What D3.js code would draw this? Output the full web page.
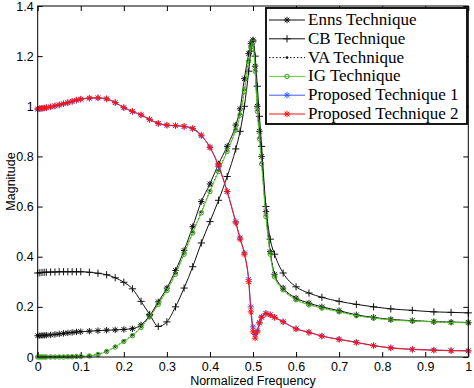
<!DOCTYPE html>
<html>
<head>
<meta charset="utf-8">
<script src="https://cdn.jsdelivr.net/npm/d3@7/dist/d3.min.js"></script>
<style>
  body { margin: 0; background: #fff; }
</style>
</head>
<body>
<script>
// normalized frequency sample points
const freq = [0, 0.005, 0.01, 0.015, 0.02, 0.03, 0.04, 0.05, 0.06, 0.07, 0.08, 0.09, 0.1,
  0.12, 0.14, 0.16, 0.18, 0.2, 0.22, 0.24, 0.26, 0.28, 0.3, 0.32, 0.34, 0.36, 0.38, 0.4,
  0.42, 0.44, 0.46, 0.47, 0.48, 0.49, 0.495, 0.5,
  0.505, 0.51, 0.515, 0.52, 0.53, 0.54, 0.55, 0.57, 0.6, 0.63, 0.66, 0.7, 0.74, 0.78,
  0.82, 0.87, 0.92, 0.96, 1];

const ennsVals = [0.085, 0.085, 0.086, 0.086, 0.087, 0.088, 0.09, 0.092, 0.094, 0.096, 0.098, 0.1, 0.101,
  0.103, 0.105, 0.107, 0.108, 0.11, 0.113, 0.128, 0.165, 0.22, 0.275, 0.345, 0.425, 0.52, 0.62, 0.69,
  0.77, 0.84, 0.925, 0.99, 1.11, 1.21, 1.25, 1.265,
  1.16, 1.0, 0.9, 0.8, 0.58, 0.42, 0.33, 0.275, 0.235, 0.215, 0.2, 0.185, 0.168, 0.158,
  0.15, 0.145, 0.141, 0.139, 0.138];

const cbVals = [0.335, 0.336, 0.337, 0.338, 0.338, 0.339, 0.339, 0.34, 0.34, 0.34, 0.34, 0.34, 0.34,
  0.338, 0.334, 0.328, 0.316, 0.298, 0.272, 0.222, 0.17, 0.122, 0.14, 0.2, 0.275, 0.36, 0.455, 0.54,
  0.625, 0.72, 0.83, 0.9, 1.0, 1.14, 1.22, 1.26,
  1.2, 1.08, 0.96, 0.84, 0.6, 0.47, 0.41, 0.335, 0.28, 0.255, 0.238, 0.222, 0.21, 0.2,
  0.192, 0.186, 0.18, 0.178, 0.176];

const vaVals = [0, 0, 0, 0, 0, 0, 0, 0.001, 0.001, 0.001, 0.002, 0.002, 0.003,
  0.005, 0.011, 0.023, 0.041, 0.063, 0.087, 0.12, 0.162, 0.212, 0.268, 0.333, 0.413, 0.498, 0.578, 0.663,
  0.743, 0.823, 0.908, 0.968, 1.065, 1.185, 1.24, 1.258,
  1.145, 0.985, 0.875, 0.775, 0.565, 0.415, 0.325, 0.27, 0.23, 0.21, 0.197, 0.181, 0.166, 0.156,
  0.149, 0.144, 0.141, 0.139, 0.137];

const igVals = [0, 0, 0, 0, 0, 0, 0, 0, 0, 0.001, 0.001, 0.002, 0.002,
  0.004, 0.01, 0.022, 0.04, 0.062, 0.085, 0.118, 0.16, 0.21, 0.265, 0.33, 0.41, 0.495, 0.575, 0.66,
  0.74, 0.82, 0.905, 0.965, 1.06, 1.18, 1.235, 1.255,
  1.14, 0.98, 0.87, 0.77, 0.56, 0.41, 0.32, 0.268, 0.228, 0.208, 0.195, 0.18, 0.165, 0.155,
  0.148, 0.143, 0.14, 0.138, 0.136];

const prop1Vals = [0.988, 0.99, 0.991, 0.993, 0.994, 0.997, 1.001, 1.005, 1.01, 1.014, 1.019, 1.024, 1.028,
  1.032, 1.033, 1.029, 1.014, 0.994, 0.979, 0.965, 0.947, 0.931, 0.924, 0.922, 0.919, 0.91, 0.882, 0.838,
  0.76, 0.66, 0.54, 0.475, 0.415, 0.31, 0.2, 0.12,
  0.09, 0.105, 0.138, 0.16, 0.174, 0.169, 0.159, 0.141, 0.113, 0.099, 0.084, 0.071, 0.059, 0.046,
  0.037, 0.031, 0.028, 0.026, 0.025];

const prop2Vals = [0.99, 0.991, 0.992, 0.993, 0.995, 0.998, 1.002, 1.006, 1.01, 1.015, 1.02, 1.025, 1.029,
  1.033, 1.034, 1.03, 1.015, 0.995, 0.98, 0.966, 0.948, 0.932, 0.925, 0.923, 0.92, 0.912, 0.885, 0.835,
  0.765, 0.66, 0.535, 0.47, 0.41, 0.3, 0.18, 0.1,
  0.075, 0.1, 0.135, 0.158, 0.173, 0.168, 0.158, 0.14, 0.112, 0.098, 0.083, 0.07, 0.058, 0.045,
  0.036, 0.03, 0.027, 0.025, 0.024];

const xTicks = [0, 0.1, 0.2, 0.3, 0.4, 0.5, 0.6, 0.7, 0.8, 0.9, 1];
const yTicks = [0, 0.2, 0.4, 0.6, 0.8, 1, 1.2, 1.4];

const seriesNames = ["Enns Technique", "CB Technique", "VA Technique", "IG Technique",
  "Proposed Technique 1", "Proposed Technique 2"];

const series = [
  { name: seriesNames[0], vals: ennsVals, color: "#111", marker: "star", dash: null },
  { name: seriesNames[1], vals: cbVals, color: "#111", marker: "plus", dash: null },
  { name: seriesNames[2], vals: vaVals, color: "#111", marker: "dot", dash: "1.5,2" },
  { name: seriesNames[3], vals: igVals, color: "#55d42a", marker: "circle", dash: null },
  { name: seriesNames[4], vals: prop1Vals, color: "#3b5bff", marker: "star", dash: null },
  { name: seriesNames[5], vals: prop2Vals, color: "#ff1010", marker: "star", dash: null }
];

const W = 474, H = 388;
const sans = "'Liberation Sans', Arial, sans-serif";
const serif = "'Liberation Serif', 'DejaVu Serif', serif";
const x = d3.scaleLinear().domain([0, 1]).range([37.7, 468.3]);
const y = d3.scaleLinear().domain([0, 1.4]).range([357, 6]);

const svg = d3.select("body").append("svg")
  .attr("width", W).attr("height", H);

function markerPath(type, r) {
  if (type === "plus") return `M0,${-r}L0,${r}M${-r},0L${r},0`;
  let d = r * 0.72;
  return `M0,${-r}L0,${r}M${-r},0L${r},0M${-d},${-d}L${d},${d}M${-d},${d}L${d},${-d}`;
}

function drawMarkers(g, s, px, py) {
  if (s.marker === "dot") {
    g.append("circle").attr("cx", px).attr("cy", py).attr("r", 1.4).attr("fill", s.color);
  } else if (s.marker === "circle") {
    g.append("circle").attr("cx", px).attr("cy", py).attr("r", 2.2)
      .attr("fill", "none").attr("stroke", "#3a9a1a").attr("stroke-width", 1);
  } else {
    let r = s.marker === "plus" ? 3.6 : 3.2;
    g.append("path").attr("d", markerPath(s.marker, r))
      .attr("transform", `translate(${px},${py})`)
      .attr("stroke", s.color).attr("stroke-width", 1).attr("fill", "none");
  }
}

// axes (ticks point inward like matlab)
svg.append("g").attr("transform", `translate(0,${y(0)})`)
  .call(d3.axisBottom(x).tickValues(xTicks).tickSizeInner(-5).tickSizeOuter(0).tickPadding(5)
    .tickFormat(d3.format("")))
  .call(g => g.select(".domain").remove());
svg.append("g").attr("transform", `translate(0,${y(1.4)})`)
  .call(d3.axisTop(x).tickValues(xTicks).tickSizeInner(-5).tickSizeOuter(0).tickFormat(""))
  .call(g => g.select(".domain").remove());
svg.append("g").attr("transform", `translate(${x(0)},0)`)
  .call(d3.axisLeft(y).tickValues(yTicks).tickSizeInner(-5).tickSizeOuter(0).tickPadding(4)
    .tickFormat(d3.format("")))
  .call(g => g.select(".domain").remove());
svg.append("g").attr("transform", `translate(${x(1)},0)`)
  .call(d3.axisRight(y).tickValues(yTicks).tickSizeInner(-5).tickSizeOuter(0).tickFormat(""))
  .call(g => g.select(".domain").remove());

svg.selectAll(".tick text").attr("fill", "#000")
  .style("font-family", sans).style("font-size", "12.5px");
svg.selectAll(".tick line").attr("stroke", "#000");

const plot = svg.append("g");
const line = d3.line().x((d, i) => x(freq[i])).y(d => y(d)).curve(d3.curveMonotoneX);

series.forEach(s => {
  const g = plot.append("g");
  g.append("path").datum(s.vals).attr("d", line)
    .attr("fill", "none").attr("stroke", s.color).attr("stroke-width", 1)
    .attr("stroke-dasharray", s.dash);
  s.vals.forEach((v, i) => drawMarkers(g, s, x(freq[i]), y(v)));
});

svg.append("rect").attr("x", x(0)).attr("y", y(1.4))
  .attr("width", x(1) - x(0)).attr("height", y(0) - y(1.4))
  .attr("fill", "none").attr("stroke", "#000").attr("stroke-width", 1);

// axis labels
svg.append("text").attr("x", (x(0) + x(1)) / 2).attr("y", 385)
  .attr("text-anchor", "middle").style("font-family", sans).style("font-size", "12.5px")
  .text("Normalized Frequency");
svg.append("text").attr("transform", `translate(15,${(y(0) + y(1.4)) / 2}) rotate(-90)`)
  .attr("text-anchor", "middle").style("font-family", sans).style("font-size", "12.5px")
  .text("Magnitude");

// legend
const lg = svg.append("g");
lg.append("rect").attr("x", 266).attr("y", 8).attr("width", 201).attr("height", 116)
  .attr("fill", "#fff").attr("stroke", "#000").attr("stroke-width", 1.8);
series.forEach((s, i) => {
  const cy = 20 + i * 18.8;
  lg.append("line").attr("x1", 269).attr("x2", 305).attr("y1", cy).attr("y2", cy)
    .attr("stroke", s.color).attr("stroke-width", 1).attr("stroke-dasharray", s.dash);
  drawMarkers(lg, s, 287, cy);
  lg.append("text").attr("x", 308).attr("y", cy + 5)
    .style("font-family", serif).style("font-size", "17px").text(s.name);
});
</script>
</body>
</html>
